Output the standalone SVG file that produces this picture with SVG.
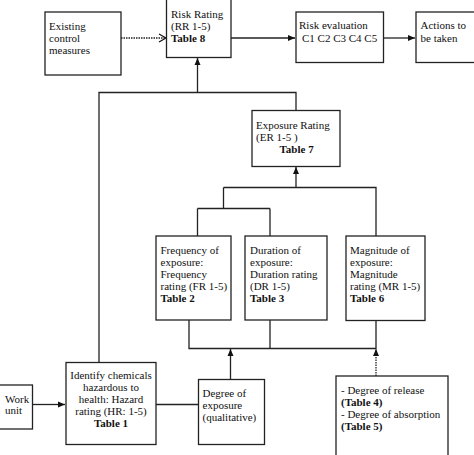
<svg xmlns="http://www.w3.org/2000/svg" width="474" height="455" viewBox="0 0 474 455">
<style>
rect{fill:#fff;stroke:#222;stroke-width:1.3}
text{font-family:"Liberation Serif","Times New Roman",serif;font-size:11px;fill:#111}
.b{font-weight:bold}
.c{fill:none;stroke:#222;stroke-width:1.3}
.d{fill:none;stroke:#222;stroke-width:1.3;stroke-dasharray:1.5 1}
</style>
<defs>
<marker id="a" markerWidth="8" markerHeight="8" refX="7" refY="4" orient="auto" markerUnits="userSpaceOnUse"><path d="M0,1 L7,4 L0,7 Z" fill="#111"/></marker>
<marker id="o" markerWidth="10" markerHeight="10" refX="8" refY="5" orient="auto" markerUnits="userSpaceOnUse"><path d="M1,1 L8,5 L1,9" fill="none" stroke="#111" stroke-width="1.2"/></marker>
</defs>
<g id="connectors">
<path class="d" d="M121,38 H166" marker-end="url(#o)"/>
<path class="c" d="M231,38 H295" marker-end="url(#a)"/>
<path class="c" d="M383,38 H415" marker-end="url(#a)"/>
<path class="c" d="M99,362 V92.5 H296 V110.5"/>
<path class="c" d="M197.5,92.5 V58" marker-end="url(#a)"/>
<path class="c" d="M223.5,187.5 H376 V236"/>
<path class="c" d="M296,187.5 V167" marker-end="url(#a)"/>
<path class="c" d="M223.5,187.5 V208.5 M197.5,208.5 H270 M197.5,208.5 V236 M270,208.5 V236"/>
<path class="c" d="M189,320 V348.5 H376 V320 M270,320 V348.5"/>
<path class="c" d="M230.5,379 V349" marker-end="url(#a)"/>
<path class="d" d="M376,376 V349" marker-end="url(#a)"/>
<path class="c" d="M33,404.5 H65" marker-end="url(#a)"/>
<path class="c" d="M156,404.5 H198"/>
</g>
<g id="existing"><rect x="45" y="12" width="76" height="63"/>
<text x="49" y="30">Existing</text><text x="49" y="42">control</text><text x="49" y="54">measures</text></g>
<g id="riskrating"><rect x="166.5" y="-2" width="64.5" height="59.5"/>
<text x="171" y="18">Risk Rating</text><text x="171" y="30">(RR 1-5)</text><text class="b" x="171" y="42">Table 8</text></g>
<g id="riskeval"><rect x="296" y="12" width="87.5" height="50.5"/>
<text x="299" y="29">Risk evaluation</text><text x="302" y="41.5">C1 C2 C3 C4 C5</text></g>
<g id="actions"><rect x="416" y="12" width="62" height="50.5"/>
<text x="420.5" y="29">Actions to</text><text x="420.5" y="41.5">be taken</text></g>
<g id="exposurerating"><rect x="252" y="110.5" width="88" height="56"/>
<text x="256" y="128.5">Exposure Rating</text><text x="256" y="140.5">(ER 1-5    )</text><text class="b" x="279.5" y="152.5">Table 7</text></g>
<g id="frequency"><rect x="156" y="236" width="75" height="84"/>
<text x="160.5" y="253.5">Frequency of</text><text x="160.5" y="265.5">exposure:</text><text x="160.5" y="277.5">Frequency</text><text x="160.5" y="289.5">rating (FR 1-5)</text><text class="b" x="160.5" y="301.5">Table 2</text></g>
<g id="duration"><rect x="245" y="236" width="82" height="84"/>
<text x="250" y="253.5">Duration of</text><text x="250" y="265.5">exposure:</text><text x="250" y="277.5">Duration rating</text><text x="250" y="289.5">(DR 1-5)</text><text class="b" x="250" y="301.5">Table 3</text></g>
<g id="magnitude"><rect x="346" y="236" width="79" height="84.5"/>
<text x="350" y="253.5">Magnitude of</text><text x="350" y="265.5">exposure:</text><text x="350" y="277.5">Magnitude</text><text x="350" y="289.5">rating (MR 1-5)</text><text class="b" x="350" y="301.5">Table 6</text></g>
<g id="workunit"><rect x="-2" y="385" width="34.5" height="44"/>
<text x="5" y="402.5">Work</text><text x="5" y="414">unit</text></g>
<g id="identify"><rect x="66" y="362.5" width="90" height="82"/>
<g text-anchor="middle"><text x="111" y="379">Identify chemicals</text><text x="111" y="391">hazardous to</text><text x="111" y="403">health: Hazard</text><text x="111" y="415">rating (HR: 1-5)</text><text class="b" x="111" y="427">Table 1</text></g></g>
<g id="degreeexposure"><rect x="198.5" y="379.5" width="66" height="65"/>
<text x="202.5" y="397">Degree of</text><text x="202.5" y="409">exposure</text><text x="202.5" y="421">(qualitative)</text></g>
<g id="release"><rect x="336" y="376" width="112" height="90"/>
<text x="341" y="393.5">- Degree of release</text><text class="b" x="341" y="405.5">(Table 4)</text><text x="341" y="417.5">- Degree of absorption</text><text class="b" x="341" y="429.5">(Table 5)</text></g>
</svg>
